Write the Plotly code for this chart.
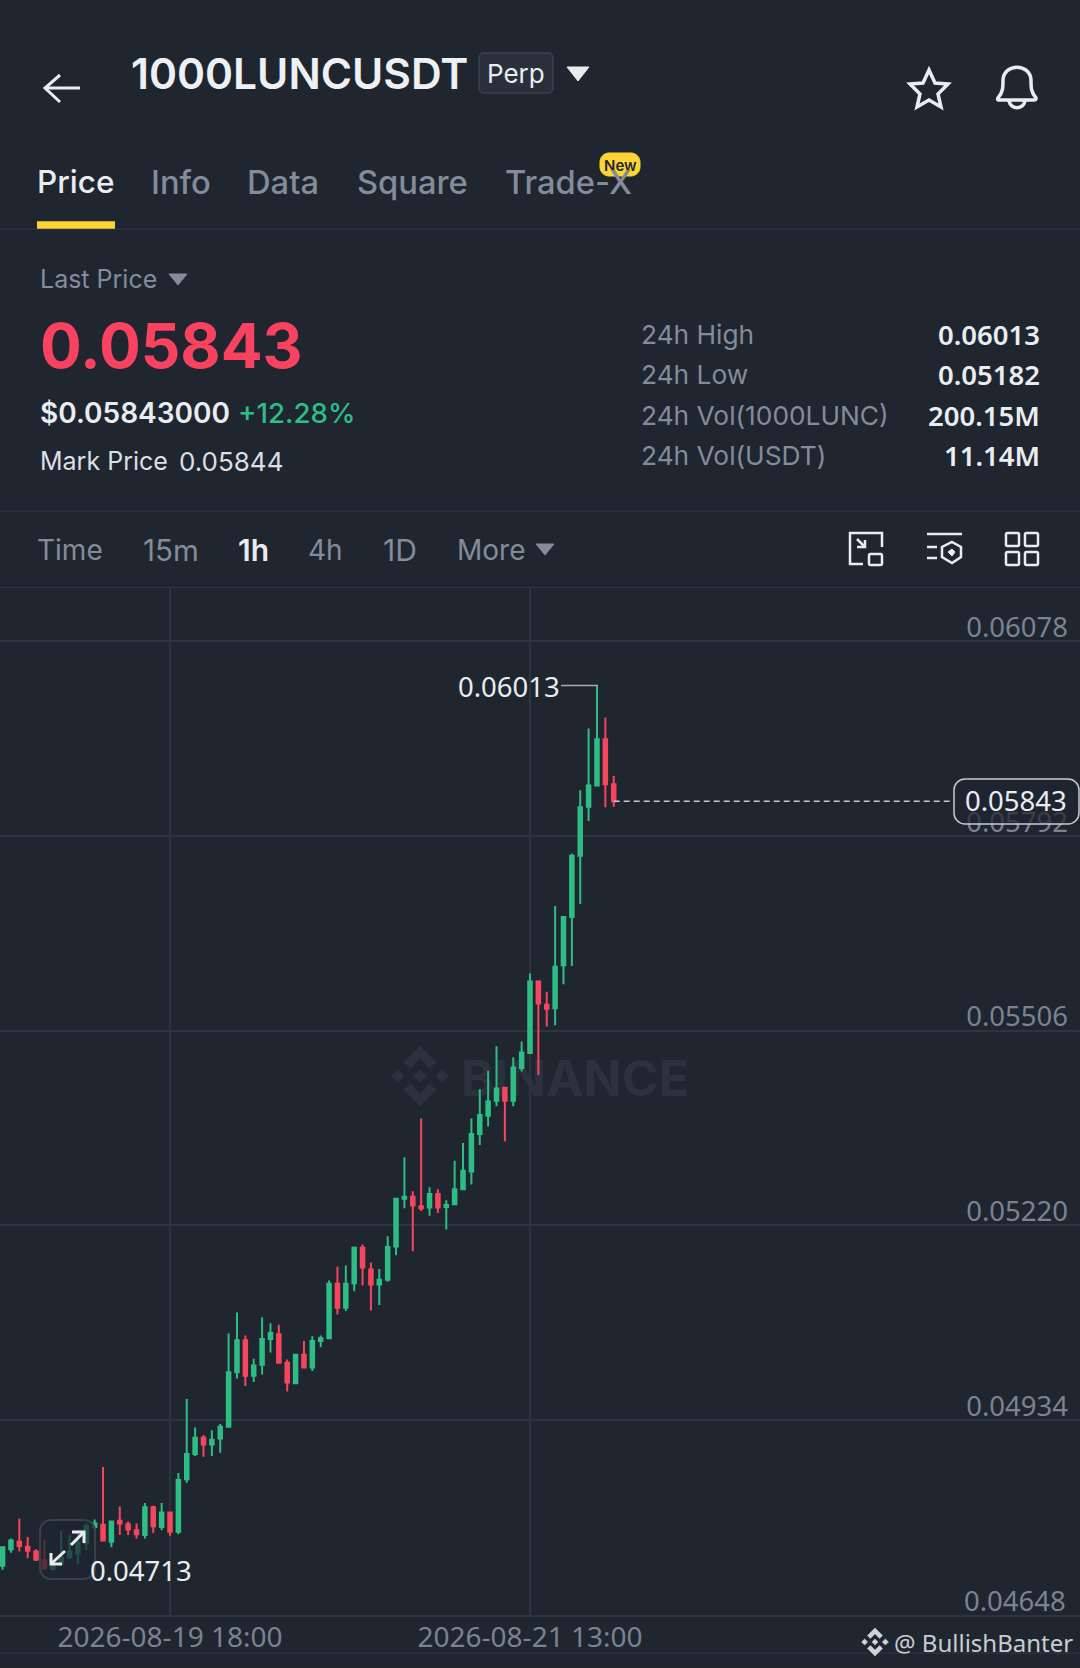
import pandas as pd
import plotly.graph_objects as go

BG = '#1f2630'
GRID = '#2d333f'
WHITE = '#eaecef'
GREY = '#848c9a'
AXIS_GREY = '#7b8390'
GREEN = '#2ebd85'
RED = '#f6465d'
YELLOW = '#fcd535'
UI_FONT = 'Inter'
NUM_FONT = 'Noto Sans'

W = 1080
H = 1668

# hourly candles, first one is 2026-08-18 22:00
start_time = '2026-08-18 22:00'
opens = [
    0.04720, 0.04744, 0.04755, 0.04748, 0.04741, 0.04728, 0.04715, 0.04722, 0.04732, 0.04738,
    0.04753, 0.04777, 0.04780, 0.04755, 0.04786, 0.04781, 0.04772, 0.04765, 0.04806, 0.04777,
    0.04798, 0.04770, 0.04847, 0.04884, 0.04908, 0.04898, 0.04907, 0.04924, 0.05004, 0.05051,
    0.04999, 0.05015, 0.05053, 0.05060, 0.05018, 0.04988, 0.05030, 0.05011, 0.05050, 0.05054,
    0.05134, 0.05099, 0.05135, 0.05187, 0.05155, 0.05133, 0.05140, 0.05189, 0.05259, 0.05262,
    0.05248, 0.05246, 0.05266, 0.05247, 0.05251, 0.05273, 0.05299, 0.05354, 0.05381, 0.05403,
    0.05422, 0.05403, 0.05451, 0.05473, 0.05578, 0.05544, 0.05539, 0.05602, 0.05673, 0.05763,
    0.05835, 0.05866, 0.05934, 0.05868,
]
highs = [
    0.04748, 0.04760, 0.04789, 0.04762, 0.04744, 0.04758, 0.04728, 0.04771, 0.04765, 0.04772,
    0.04782, 0.04788, 0.04865, 0.04786, 0.04807, 0.04785, 0.04782, 0.04812, 0.04808, 0.04812,
    0.04799, 0.04856, 0.04965, 0.04923, 0.04912, 0.04919, 0.04928, 0.05061, 0.05092, 0.05058,
    0.05024, 0.05085, 0.05076, 0.05074, 0.05023, 0.05030, 0.05050, 0.05057, 0.05058, 0.05139,
    0.05159, 0.05161, 0.05189, 0.05192, 0.05165, 0.05156, 0.05204, 0.05260, 0.05320, 0.05270,
    0.05377, 0.05276, 0.05273, 0.05257, 0.05315, 0.05341, 0.05377, 0.05420, 0.05447, 0.05483,
    0.05422, 0.05467, 0.05490, 0.05590, 0.05580, 0.05563, 0.05689, 0.05674, 0.05766, 0.05859,
    0.05950, 0.06013, 0.05966, 0.05880,
]
lows = [
    0.04714, 0.04739, 0.04741, 0.04731, 0.04727, 0.04715, 0.04713, 0.04721, 0.04731, 0.04722,
    0.04743, 0.04771, 0.04757, 0.04747, 0.04765, 0.04765, 0.04760, 0.04760, 0.04768, 0.04772,
    0.04764, 0.04766, 0.04842, 0.04881, 0.04880, 0.04881, 0.04886, 0.04924, 0.04995, 0.04984,
    0.04990, 0.05001, 0.05033, 0.05018, 0.04976, 0.04988, 0.05010, 0.05006, 0.05041, 0.05053,
    0.05089, 0.05094, 0.05123, 0.05132, 0.05095, 0.05103, 0.05137, 0.05176, 0.05245, 0.05182,
    0.05241, 0.05234, 0.05238, 0.05214, 0.05250, 0.05273, 0.05280, 0.05338, 0.05365, 0.05395,
    0.05343, 0.05395, 0.05446, 0.05472, 0.05441, 0.05512, 0.05514, 0.05574, 0.05601, 0.05692,
    0.05814, 0.05866, 0.05834, 0.05835,
]
closes = [
    0.04747, 0.04757, 0.04749, 0.04742, 0.04729, 0.04716, 0.04722, 0.04732, 0.04741, 0.04754,
    0.04778, 0.04782, 0.04757, 0.04785, 0.04782, 0.04773, 0.04766, 0.04806, 0.04778, 0.04798,
    0.04770, 0.04846, 0.04884, 0.04908, 0.04898, 0.04905, 0.04924, 0.05004, 0.05051, 0.04999,
    0.05014, 0.05053, 0.05062, 0.05018, 0.04989, 0.05030, 0.05011, 0.05050, 0.05054, 0.05134,
    0.05099, 0.05134, 0.05187, 0.05158, 0.05133, 0.05140, 0.05188, 0.05259, 0.05262, 0.05249,
    0.05245, 0.05266, 0.05246, 0.05250, 0.05273, 0.05300, 0.05354, 0.05382, 0.05402, 0.05421,
    0.05403, 0.05452, 0.05474, 0.05578, 0.05546, 0.05538, 0.05600, 0.05673, 0.05763, 0.05834,
    0.05866, 0.05934, 0.05868, 0.05843,
]

price_ticks = [0.04648, 0.04934, 0.05220, 0.05506, 0.05792, 0.06078]
price_tick_labels = ['0.04648', '0.04934', '0.05220', '0.05506', '0.05792', '0.06078']
time_ticks = ['2026-08-19 18:00', '2026-08-21 13:00']
tabs = ['Price', 'Info', 'Data', 'Square', 'Trade-X']
stat_names = ['24h High', '24h Low', '24h Vol(1000LUNC)', '24h Vol(USDT)']
stat_values = ['0.06013', '0.05182', '200.15M', '11.14M']
intervals = ['Time', '15m', '1h', '4h', '1D', 'More']

times = pd.date_range(start_time, periods=len(opens), freq='h')


def px(x):
    return x / W


def py(y):
    return 1 - y / H


def text(s, x, y, size, color=WHITE, weight=400, anchor='left', family=UI_FONT):
    # x, y are page pixels, y is the middle of the text
    return dict(
        text=s, x=px(x), y=py(y), xref='paper', yref='paper', showarrow=False,
        xanchor=anchor, yanchor='middle', borderpad=0,
        font=dict(family=family, size=size, color=color, weight=weight),
    )


def price_label(s, x, y, anchor, yshift, color=WHITE):
    # label that sits at a price, x is a page pixel
    return dict(
        text=s, x=px(x), y=y, xref='paper', yref='y', showarrow=False,
        xanchor=anchor, yanchor='middle', yshift=yshift, borderpad=0,
        font=dict(family=NUM_FONT, size=27.5, color=color),
    )


def outline(path, color=WHITE, width=2.5, fill=None, layer='above'):
    # path is a list of (x, y) page pixels, a None closes the part before it
    d = ''
    pen_up = True
    for p in path:
        if p is None:
            d += ' Z'
            pen_up = True
            continue
        d += (' M ' if pen_up else ' L ') + f'{px(p[0]):.5f},{py(p[1]):.5f}'
        pen_up = False
    return dict(
        type='path', path=d.strip(), xref='paper', yref='paper', layer=layer,
        line=dict(color=color, width=width), fillcolor=fill,
    )


def rounded(x0, y0, x1, y1, r, color, width=1.5, fill=None, layer='above'):
    k = 0.45 * r
    d = (
        f'M {px(x0 + r):.5f},{py(y0):.5f} L {px(x1 - r):.5f},{py(y0):.5f} '
        f'C {px(x1 - k):.5f},{py(y0):.5f} {px(x1):.5f},{py(y0 + k):.5f} {px(x1):.5f},{py(y0 + r):.5f} '
        f'L {px(x1):.5f},{py(y1 - r):.5f} '
        f'C {px(x1):.5f},{py(y1 - k):.5f} {px(x1 - k):.5f},{py(y1):.5f} {px(x1 - r):.5f},{py(y1):.5f} '
        f'L {px(x0 + r):.5f},{py(y1):.5f} '
        f'C {px(x0 + k):.5f},{py(y1):.5f} {px(x0):.5f},{py(y1 - k):.5f} {px(x0):.5f},{py(y1 - r):.5f} '
        f'L {px(x0):.5f},{py(y0 + r):.5f} '
        f'C {px(x0):.5f},{py(y0 + k):.5f} {px(x0 + k):.5f},{py(y0):.5f} {px(x0 + r):.5f},{py(y0):.5f} Z'
    )
    return dict(
        type='path', path=d, xref='paper', yref='paper', layer=layer,
        line=dict(color=color, width=width), fillcolor=fill,
    )


def hline(y, color=GRID, x0=0, x1=W, width=1.5):
    return outline([(x0, y), (x1, y)], color=color, width=width)


def triangle(x0, x1, y0, y1, color):
    return outline([(x0, y0), (x1, y0), ((x0 + x1) / 2, y1), None], color=color, width=1, fill=color)


def binance_logo(cx, cy, s, color, layer='above'):
    parts = []
    chevron = [(0, -1), (0.54, -0.46), (0.33, -0.25), (0, -0.58), (-0.33, -0.25), (-0.54, -0.46)]
    for flip in (1, -1):
        parts += [(cx + a * s, cy + flip * b * s) for a, b in chevron] + [None]
    for ox, half in ((0, 0.22), (-0.74, 0.22), (0.74, 0.22)):
        parts += [
            (cx + (ox - half) * s, cy), (cx + ox * s, cy - half * s),
            (cx + (ox + half) * s, cy), (cx + ox * s, cy + half * s), None,
        ]
    return outline(parts, color=color, width=0.5, fill=color, layer=layer)


fig = go.Figure()

fig.add_trace(
    go.Candlestick(
        x=times, open=opens, high=highs, low=lows, close=closes,
        increasing=dict(line=dict(color=GREEN, width=2), fillcolor=GREEN),
        decreasing=dict(line=dict(color=RED, width=2), fillcolor=RED),
        whiskerwidth=0,
        showlegend=False,
    )
)

annotations = [
    text('1000LUNCUSDT', 130, 74, 42.5, '#eef0f3', 600),
    text('Perp', 516, 74, 26, WHITE, 400, 'center'),
    text('New', 620, 165, 15, '#1f2630', 600, 'center'),
    text('Last Price', 39, 279, 25, GREY),
    text('0.05843', 39, 345, 62, '#f8425f', 700),
    text('$0.05843000', 39, 413, 28, WHITE, 600),
    text('+12.28%', 237, 413, 27.7, GREEN, 500),
    text('Mark Price', 39, 461, 25, '#dcdfe3'),
    text('0.05844', 178, 461, 26, '#dcdfe3'),
]

tab_x = [36, 150, 246, 356, 504]
tab_size = [31.5, 32.7, 32.7, 32.7, 32.7]
for i, name in enumerate(tabs):
    annotations.append(text(name, tab_x[i], 182, tab_size[i], WHITE if i == 0 else GREY, 500))

stat_y = [335, 375, 415, 455]
for i in range(len(stat_names)):
    annotations.append(text(stat_names[i], 640, stat_y[i], 26.3, GREY))
    annotations.append(text(stat_values[i], 1041, stat_y[i], 27.5, WHITE, 600, 'right', NUM_FONT))

interval_x = [36, 142, 237, 307, 382, 456]
interval_size = [28, 29.5, 30, 28, 30, 28]
for i, name in enumerate(intervals):
    active = name == '1h'
    annotations.append(
        text(name, interval_x[i], 550, interval_size[i], WHITE if active else GREY, 600 if active else 400)
    )

annotations += [
    # labels of the highest, lowest and last price, on the price scale
    price_label(f'{max(highs):.5f}', 561, max(highs), 'right', -1),
    price_label(f'{min(lows):.5f}', 89, min(lows), 'left', 0),
    price_label(f'{closes[-1]:.5f}', 1016, closes[-1], 'center', 1),
    # plotly drops the tick label at the very bottom of an inside axis
    price_label(price_tick_labels[0], 1067, price_ticks[0], 'right', 14, AXIS_GREY),
    text('@ BullishBanter', 893, 1642, 24, '#c9cdd3', 400, family='Noto Sans'),
]

shapes = [
    # header
    outline([(80, 88), (45, 88)], width=3),
    outline([(60, 75), (45, 88), (60, 102)], width=3),
    rounded(479, 53, 553, 93, 5, '#3a414d', 1.5, '#2a303b'),
    triangle(567, 589, 67, 81, WHITE),
    outline([
        (929, 70), (935, 83), (948, 84), (938, 94), (941, 107), (929, 100),
        (917, 107), (920, 94), (910, 84), (923, 83), None,
    ], width=3.5),
    dict(
        type='path', xref='paper', yref='paper', line=dict(color=WHITE, width=3.5),
        path=(
            f'M {px(998):.5f},{py(98):.5f} C {px(1003):.5f},{py(92):.5f} {px(1003):.5f},{py(88):.5f} '
            f'{px(1003):.5f},{py(80):.5f} C {px(1004):.5f},{py(63):.5f} {px(1030):.5f},{py(63):.5f} '
            f'{px(1031):.5f},{py(80):.5f} C {px(1031):.5f},{py(88):.5f} {px(1031):.5f},{py(92):.5f} '
            f'{px(1036):.5f},{py(98):.5f} C {px(1036):.5f},{py(100):.5f} {px(1035):.5f},{py(100):.5f} '
            f'{px(1034):.5f},{py(100):.5f} L {px(1000):.5f},{py(100):.5f} C {px(998):.5f},{py(100):.5f} '
            f'{px(997):.5f},{py(100):.5f} {px(998):.5f},{py(98):.5f} Z '
            f'M {px(1009):.5f},{py(101):.5f} C {px(1011):.5f},{py(110):.5f} {px(1023):.5f},{py(110):.5f} '
            f'{px(1025):.5f},{py(101):.5f}'
        ),
    ),
    # tabs
    hline(229),
    outline([(37, 225), (115, 225)], color=YELLOW, width=7.5),
    rounded(600, 153, 640, 176, 9, YELLOW, 1, YELLOW),
    # price block
    triangle(169, 187, 274, 285, GREY),
    hline(511),
    # interval bar
    triangle(536, 554, 544, 555, GREY),
    hline(587.5),
    outline([(863, 564), (850, 564), (850, 533), (882, 533), (882, 547)], width=2.5),
    rounded(869, 554, 882, 565, 1.5, WHITE, 2.5),
    outline([(857, 539), (865, 547)], width=2.5),
    outline([(865, 540), (865, 547), (857, 547)], width=2.5),
    outline([(927, 534), (962, 534)], width=2.5),
    outline([(927, 547), (937, 547)], width=2.5),
    outline([(927, 558), (937, 558)], width=2.5),
    outline([(952, 542), (961, 547), (961, 557), (952, 563), (942, 557), (942, 547), None], width=2.5),
    outline([(952, 549), (955, 552), (952, 556), (948, 552), None], width=1, fill=WHITE),
    rounded(1006, 533, 1019, 546, 1.5, WHITE, 2.5),
    rounded(1025, 533, 1038, 546, 1.5, WHITE, 2.5),
    rounded(1006, 552, 1019, 565, 1.5, WHITE, 2.5),
    rounded(1025, 552, 1038, 565, 1.5, WHITE, 2.5),
    # watermark under the candles
    binance_logo(420, 1076, 30, '#2b323e', 'below'),
    dict(
        type='rect', xref='paper', yref='paper', layer='below', x0=px(458), x1=px(692),
        y0=py(1100), y1=py(1052), line=dict(width=0), fillcolor='rgba(0,0,0,0)',
        label=dict(
            text='BINANCE', textposition='middle center',
            font=dict(family=UI_FONT, size=50, color='#2b323e', weight=700),
        ),
    ),
    # last price line and its label box
    dict(
        type='line', xref='x', yref='y', x0=times[-1], x1='2026-08-23 15:30', y0=closes[-1], y1=closes[-1],
        line=dict(color='#c4c7cc', width=1.5, dash='6px,4px'),
    ),
    rounded(954, 779, 1079, 824, 11, '#c7cacf', 1.5, 'rgba(31,38,48,0.72)'),
    # leader of the highest price
    dict(
        type='line', xref='paper', yref='y', x0=px(561), x1=px(598), y0=max(highs), y1=max(highs),
        line=dict(color='#a9adb3', width=1.5),
    ),
    # expand button over the candles
    rounded(40, 1520, 95, 1579, 11, '#3a404b', 2, 'rgba(31,38,48,0.72)'),
    outline([(52, 1563), (65, 1551)], width=3),
    outline([(51, 1553), (51, 1564), (62, 1564)], width=3),
    outline([(71, 1545), (83, 1533)], width=3),
    outline([(72, 1532), (84, 1532), (84, 1543)], width=3),
    # footer
    hline(1653),
    binance_logo(875, 1642, 14, '#cfd3d9'),
]

fig.update_layout(
    width=W,
    height=H,
    autosize=False,
    margin=dict(l=0, r=0, t=0, b=0),
    paper_bgcolor=BG,
    plot_bgcolor=BG,
    boxgap=0.4,
    showlegend=False,
    annotations=annotations,
    shapes=shapes,
)
fig.update_xaxes(
    type='date',
    rangeslider_visible=False,
    range=['2026-08-18 21:41:38', '2026-08-24 06:41:42'],
    tickvals=time_ticks,
    ticktext=time_ticks,
    ticks='',
    ticklabelstandoff=-3,
    showgrid=True,
    gridcolor=GRID,
    gridwidth=1.5,
    showline=True,
    linecolor=GRID,
    linewidth=1.5,
    zeroline=False,
    tickfont=dict(family=NUM_FONT, size=28, color=AXIS_GREY),
)
fig.update_yaxes(
    domain=[py(1614.7), py(587)],
    range=[0.04648, 0.061577],
    side='right',
    tickvals=price_ticks,
    ticktext=price_tick_labels,
    ticklabelposition='inside',
    ticklabelshift=-14,
    ticklabelstandoff=9,
    ticks='',
    showgrid=True,
    gridcolor=GRID,
    gridwidth=1.5,
    zeroline=False,
    tickfont=dict(family=NUM_FONT, size=27.5, color=AXIS_GREY),
)

fig.write_html(
    'out.html',
    config=dict(displayModeBar=False),
    post_script="document.body.style.margin='0';document.body.style.background='" + BG + "';",
)
